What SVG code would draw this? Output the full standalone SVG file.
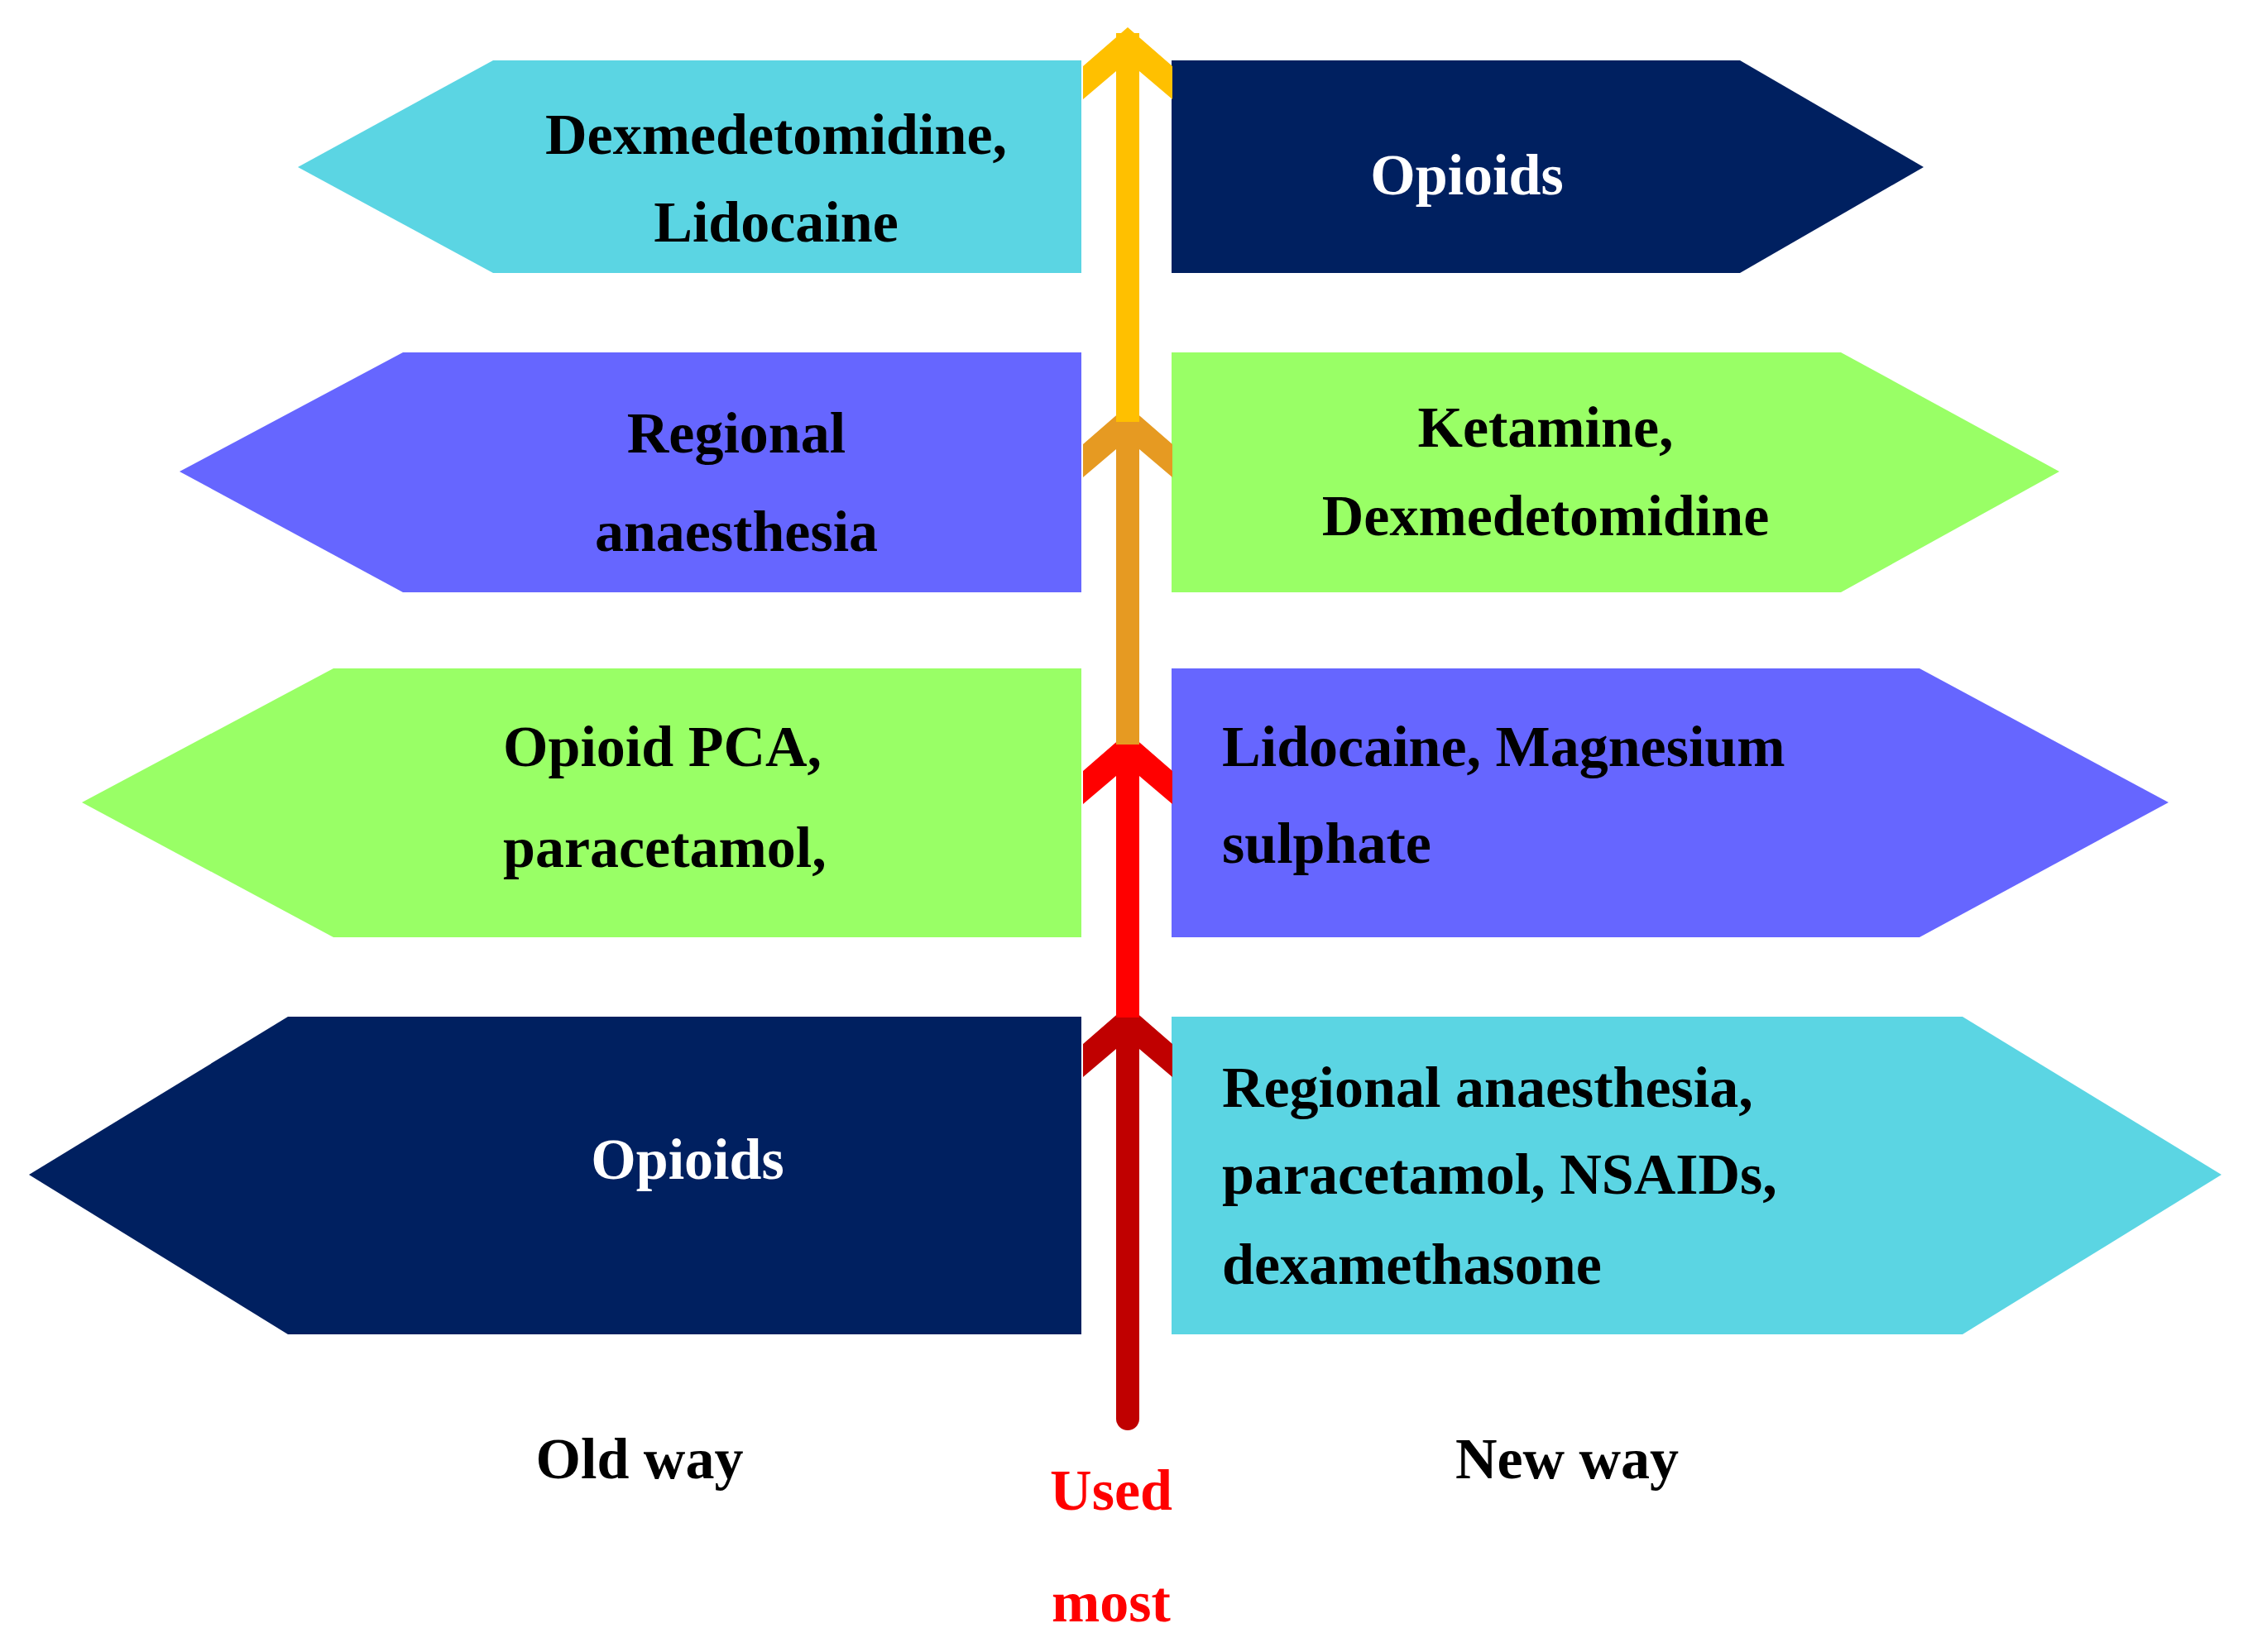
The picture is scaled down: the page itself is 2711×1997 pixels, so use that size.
<svg xmlns="http://www.w3.org/2000/svg" width="2711" height="1997" viewBox="0 0 2711 1997">
<style>
text{font-family:"Liberation Serif","DejaVu Serif",serif;font-weight:bold;font-size:70px;fill:#000}
.w{fill:#fff}.c{text-anchor:middle}
.cy{fill:#5BD5E3}.nv{fill:#002060}.pu{fill:#6666FF}.gr{fill:#99FF66}
</style>
<rect width="2711" height="1997" fill="#fff"/>
<g id="l1"><polygon class="cy" points="1307,73 596,73 360,202 596,330 1307,330"/><text class="c" x="938" y="186">Dexmedetomidine,</text><text class="c" x="938" y="292">Lidocaine</text></g>
<g id="r1"><polygon class="nv" points="1416,73 2103,73 2325,202 2103,330 1416,330"/><text class="c w" x="1773" y="235">Opioids</text></g>
<g id="l2"><polygon class="pu" points="1307,426 487,426 217,570 487,716 1307,716"/><text class="c" x="890" y="547">Regional</text><text class="c" x="890" y="666">anaesthesia</text></g>
<g id="r2"><polygon class="gr" points="1416,426 2225,426 2489,570 2225,716 1416,716"/><text class="c" x="1868" y="540">Ketamine,</text><text class="c" x="1868" y="647">Dexmedetomidine</text></g>
<g id="l3"><polygon class="gr" points="1307,808 403,808 99,970 403,1133 1307,1133"/><text x="608" y="926">Opioid PCA,</text><text x="608" y="1048">paracetamol,</text></g>
<g id="r3"><polygon class="pu" points="1416,808 2320,808 2621,970 2320,1133 1416,1133"/><text x="1477" y="926">Lidocaine, Magnesium</text><text x="1477" y="1043">sulphate</text></g>
<g id="l4"><polygon class="nv" points="1307,1229 348,1229 35,1420 348,1613 1307,1613"/><text class="c w" x="831" y="1425">Opioids</text></g>
<g id="r4"><polygon class="cy" points="1416,1229 2372,1229 2685,1420 2372,1613 1416,1613"/><text x="1477" y="1338">Regional anaesthesia,</text><text x="1477" y="1443">paracetamol, NSAIDs,</text><text x="1477" y="1552">dexamethasone</text></g>
<g id="connectors">
<path d="M1363,1215 V1715" stroke="#C00000" stroke-width="28" stroke-linecap="round"/>
<polygon fill="#C00000" points="1363,1215 1417,1262 1417,1302 1377,1268 1349,1268 1309,1302 1309,1262"/>
<path d="M1363,890 V1230" stroke="#FF0000" stroke-width="28"/>
<polygon fill="#FF0000" points="1363,885 1417,932 1417,972 1377,938 1349,938 1309,972 1309,932"/>
<path d="M1363,495 V900" stroke="#E69A22" stroke-width="28"/>
<polygon fill="#E69A22" points="1363,490 1417,537 1417,577 1377,543 1349,543 1309,577 1309,537"/>
<path d="M1363,40 V510" stroke="#FFC000" stroke-width="28"/>
<polygon fill="#FFC000" points="1363,33 1417,80 1417,120 1377,86 1349,86 1309,120 1309,80"/>
</g>
<g id="labels"><text class="c" x="773" y="1787">Old way</text><text class="c" x="1894" y="1787">New way</text><text class="c" x="1343" y="1825" style="fill:#FF0000">Used</text><text class="c" x="1343" y="1960" style="fill:#FF0000">most</text></g>
</svg>
